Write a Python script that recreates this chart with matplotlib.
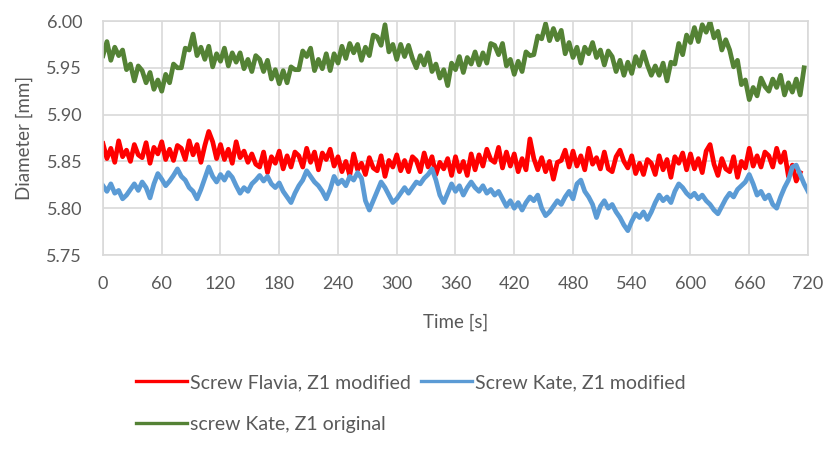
import numpy as np
import matplotlib.pyplot as plt

# sampling interval of the traces [s]
dt = 4

# Screw Flavia, Z1 modified
flavia_mod = [
    5.869, 5.853, 5.864, 5.849, 5.872, 5.855, 5.862, 5.850, 5.868, 5.857,
    5.854, 5.870, 5.848, 5.865, 5.858, 5.871, 5.852, 5.863, 5.851, 5.867,
    5.864, 5.852, 5.872, 5.857, 5.868, 5.849, 5.867, 5.882, 5.871, 5.853,
    5.868, 5.852, 5.863, 5.848, 5.871, 5.854, 5.861, 5.849, 5.858, 5.847,
    5.844, 5.860, 5.838, 5.855, 5.848, 5.861, 5.842, 5.856, 5.844, 5.860,
    5.856, 5.844, 5.864, 5.849, 5.860, 5.841, 5.859, 5.852, 5.863, 5.845,
    5.855, 5.839, 5.850, 5.835, 5.858, 5.841, 5.848, 5.836, 5.854, 5.843,
    5.840, 5.856, 5.834, 5.851, 5.844, 5.857, 5.840, 5.851, 5.839, 5.855,
    5.851, 5.839, 5.859, 5.844, 5.855, 5.836, 5.849, 5.842, 5.853, 5.835,
    5.855, 5.839, 5.850, 5.835, 5.858, 5.841, 5.857, 5.845, 5.863, 5.852,
    5.849, 5.865, 5.843, 5.860, 5.845, 5.858, 5.839, 5.853, 5.841, 5.874,
    5.853, 5.841, 5.854, 5.839, 5.850, 5.831, 5.849, 5.851, 5.862, 5.844,
    5.861, 5.845, 5.856, 5.841, 5.864, 5.847, 5.854, 5.842, 5.860, 5.842,
    5.839, 5.855, 5.862, 5.850, 5.843, 5.856, 5.837, 5.848, 5.836, 5.852,
    5.848, 5.836, 5.856, 5.841, 5.852, 5.833, 5.855, 5.848, 5.859, 5.841,
    5.858, 5.842, 5.853, 5.838, 5.861, 5.868, 5.847, 5.835, 5.853, 5.842,
    5.839, 5.855, 5.833, 5.850, 5.843, 5.864, 5.845, 5.856, 5.844, 5.860,
    5.856, 5.844, 5.864, 5.849, 5.860, 5.834, 5.846, 5.829, 5.838,
]

# Screw Kate, Z1 modified
kate_mod = [
    5.824, 5.818, 5.826, 5.816, 5.819, 5.810, 5.814, 5.820, 5.826, 5.819,
    5.828, 5.822, 5.811, 5.826, 5.837, 5.831, 5.824, 5.829, 5.835, 5.842,
    5.834, 5.830, 5.822, 5.818, 5.810, 5.820, 5.832, 5.844, 5.834, 5.828,
    5.836, 5.830, 5.838, 5.833, 5.824, 5.816, 5.822, 5.818, 5.826, 5.830,
    5.835, 5.829, 5.834, 5.826, 5.822, 5.827, 5.818, 5.812, 5.806, 5.816,
    5.824, 5.830, 5.840, 5.834, 5.828, 5.824, 5.818, 5.810, 5.820, 5.834,
    5.826, 5.830, 5.824, 5.834, 5.830, 5.838, 5.832, 5.808, 5.798, 5.808,
    5.818, 5.828, 5.822, 5.814, 5.806, 5.810, 5.816, 5.822, 5.816, 5.822,
    5.828, 5.826, 5.832, 5.836, 5.842, 5.830, 5.814, 5.806, 5.816, 5.826,
    5.818, 5.824, 5.814, 5.822, 5.828, 5.822, 5.818, 5.824, 5.816, 5.820,
    5.814, 5.818, 5.810, 5.802, 5.808, 5.800, 5.806, 5.798, 5.806, 5.812,
    5.808, 5.814, 5.800, 5.792, 5.796, 5.802, 5.808, 5.804, 5.812, 5.818,
    5.810, 5.826, 5.830, 5.818, 5.812, 5.804, 5.790, 5.802, 5.808, 5.800,
    5.804, 5.796, 5.790, 5.782, 5.776, 5.786, 5.794, 5.790, 5.796, 5.788,
    5.796, 5.806, 5.814, 5.808, 5.812, 5.806, 5.818, 5.826, 5.822, 5.816,
    5.812, 5.816, 5.810, 5.814, 5.808, 5.804, 5.798, 5.794, 5.802, 5.810,
    5.816, 5.812, 5.820, 5.824, 5.828, 5.836, 5.826, 5.814, 5.818, 5.810,
    5.814, 5.804, 5.800, 5.812, 5.822, 5.830, 5.844, 5.846, 5.836, 5.826,
    5.818,
]

# screw Kate, Z1 original
kate_orig = [
    5.963, 5.978, 5.958, 5.972, 5.963, 5.969, 5.948, 5.954, 5.936, 5.952,
    5.947, 5.934, 5.945, 5.927, 5.937, 5.925, 5.943, 5.934, 5.954, 5.950,
    5.950, 5.971, 5.969, 5.986, 5.963, 5.972, 5.959, 5.973, 5.951, 5.965,
    5.957, 5.971, 5.952, 5.966, 5.956, 5.966, 5.949, 5.959, 5.946, 5.963,
    5.959, 5.946, 5.958, 5.938, 5.948, 5.933, 5.947, 5.934, 5.951, 5.948,
    5.948, 5.968, 5.962, 5.971, 5.947, 5.959, 5.949, 5.965, 5.947, 5.965,
    5.955, 5.973, 5.960, 5.976, 5.966, 5.975, 5.958, 5.972, 5.963, 5.985,
    5.983, 5.974, 5.996, 5.967, 5.975, 5.959, 5.975, 5.962, 5.974, 5.960,
    5.950, 5.963, 5.953, 5.966, 5.946, 5.954, 5.939, 5.948, 5.931, 5.955,
    5.948, 5.962, 5.945, 5.961, 5.954, 5.967, 5.953, 5.966, 5.955, 5.976,
    5.974, 5.964, 5.976, 5.952, 5.959, 5.943, 5.957, 5.946, 5.967, 5.963,
    5.964, 5.984, 5.981, 5.997, 5.979, 5.992, 5.980, 5.990, 5.965, 5.977,
    5.961, 5.972, 5.955, 5.972, 5.965, 5.977, 5.961, 5.969, 5.953, 5.968,
    5.962, 5.946, 5.958, 5.942, 5.956, 5.944, 5.962, 5.952, 5.967, 5.953,
    5.942, 5.952, 5.942, 5.955, 5.936, 5.956, 5.954, 5.976, 5.964, 5.985,
    5.977, 5.993, 5.978, 5.996, 5.988, 5.999, 5.982, 5.989, 5.969, 5.980,
    5.969, 5.951, 5.958, 5.932, 5.937, 5.916, 5.929, 5.920, 5.939, 5.930,
    5.925, 5.938, 5.929, 5.942, 5.921, 5.934, 5.924, 5.938, 5.921, 5.950,
]

series = [
    ("Screw Flavia, Z1 modified", flavia_mod, "#FF0000"),
    ("Screw Kate, Z1 modified", kate_mod, "#5B9BD5"),
    ("screw Kate, Z1 original", kate_orig, "#548235"),
]

x_ticks = list(range(0, 721, 60))
y_ticks = [5.75, 5.80, 5.85, 5.90, 5.95, 6.00]

plt.rcParams['font.family'] = ['Lato', 'DejaVu Sans']
txt = '#595959'
grid = '#D9D9D9'

fig = plt.figure(figsize=(8.37, 4.59), dpi=100)
ax = fig.add_axes([103 / 837, 1 - 255 / 459, 705 / 837, 234 / 459])

handles = []
for name, vals, col in series:
    t = np.arange(len(vals)) * dt
    h, = ax.plot(t, vals, color=col, linewidth=3.4, label=name,
                 solid_joinstyle='round')
    handles.append(h)

ax.set_xlim(0, 720)
ax.set_ylim(5.75, 6.00)
ax.set_xticks(x_ticks)
ax.set_yticks(y_ticks)
ax.set_yticklabels(['%.2f' % v for v in y_ticks])
ax.grid(True, color=grid, linewidth=1.2)
ax.set_axisbelow(True)
for s in ax.spines.values():
    s.set_color(grid)
    s.set_linewidth(1.2)
ax.tick_params(length=0, pad=15, labelsize=13, labelcolor=txt)

ax.set_xlabel('Time [s]', fontsize=13.5, color=txt)
ax.set_ylabel('Diameter [mm]', fontsize=13.5, color=txt)
ax.xaxis.set_label_coords(0.5, -(322 - 255) / 234)
ax.yaxis.set_label_coords((24 - 103) / 705, 0.5)
ax.xaxis.label.set_va('center')
ax.yaxis.label.set_va('center')

# row-major order for a 2-column legend
order = [handles[0], handles[2], handles[1]]
leg = fig.legend(order, [h.get_label() for h in order], ncol=2, frameon=False,
                 loc='upper left', bbox_to_anchor=(136 / 837, 1 - 374 / 459),
                 fontsize=14, handlelength=2.6, handletextpad=0.2,
                 columnspacing=0.5, labelspacing=1.3, borderpad=0,
                 borderaxespad=0)
for h in leg.legend_handles:
    h.set_linewidth(2.4)
for t in leg.get_texts():
    t.set_color(txt)

fig.savefig('out.png', dpi=100)
